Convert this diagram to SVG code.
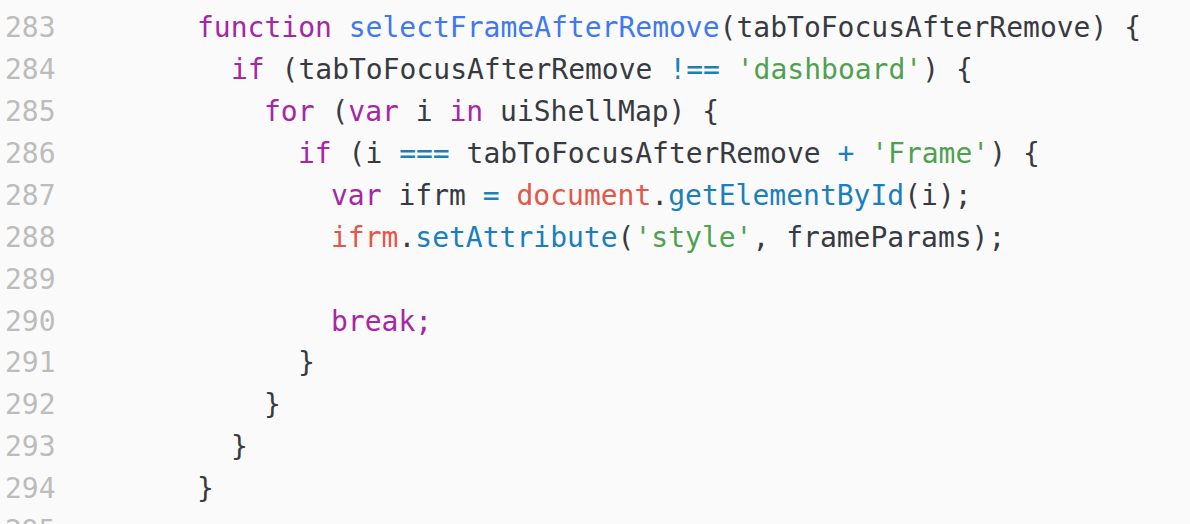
<svg xmlns="http://www.w3.org/2000/svg" width="1190" height="524" viewBox="0 0 1190 524">
<style>
text{font-family:"DejaVu Sans Mono","Liberation Mono",monospace;font-size:28px;fill:#383a42;white-space:pre}
.n{fill:#bcbcbc}.k{fill:#a626a4}.f{fill:#4078f2}.m{fill:#1a7fba}.s{fill:#50a14f}.r{fill:#e45649}.o{fill:#1a7fba}
</style>
<rect width="1190" height="524" fill="#fafafa"/>
<g id="gutter">
<text class="n" x="5" y="37">283</text>
<text class="n" x="5" y="79">284</text>
<text class="n" x="5" y="121">285</text>
<text class="n" x="5" y="163">286</text>
<text class="n" x="5" y="205">287</text>
<text class="n" x="5" y="247">288</text>
<text class="n" x="5" y="289">289</text>
<text class="n" x="5" y="331">290</text>
<text class="n" x="5" y="372">291</text>
<text class="n" x="5" y="414">292</text>
<text class="n" x="5" y="456">293</text>
<text class="n" x="5" y="498">294</text>
<text class="n" x="5" y="540">295</text>
</g>
<g id="code">
<text x="197" y="37"><tspan class="k">function</tspan> <tspan class="f">selectFrameAfterRemove</tspan>(tabToFocusAfterRemove) {</text>
<text x="231" y="79"><tspan class="k">if</tspan> (tabToFocusAfterRemove <tspan class="o">!==</tspan> <tspan class="s">'dashboard'</tspan>) {</text>
<text x="264" y="121"><tspan class="k">for</tspan> (<tspan class="k">var</tspan> i <tspan class="k">in</tspan> uiShellMap) {</text>
<text x="298" y="163"><tspan class="k">if</tspan> (i <tspan class="o">===</tspan> tabToFocusAfterRemove <tspan class="o">+</tspan> <tspan class="s">'Frame'</tspan>) {</text>
<text x="331" y="205"><tspan class="k">var</tspan> ifrm <tspan class="o">=</tspan> <tspan class="r">document</tspan>.<tspan class="m">getElementById</tspan>(i);</text>
<text x="331" y="247"><tspan class="r">ifrm</tspan>.<tspan class="m">setAttribute</tspan>(<tspan class="s">'style'</tspan>, frameParams);</text>
<text x="331" y="331" class="k">break;</text>
<text x="298" y="372">}</text>
<text x="264" y="414">}</text>
<text x="231" y="456">}</text>
<text x="197" y="498">}</text>
</g>
</svg>
